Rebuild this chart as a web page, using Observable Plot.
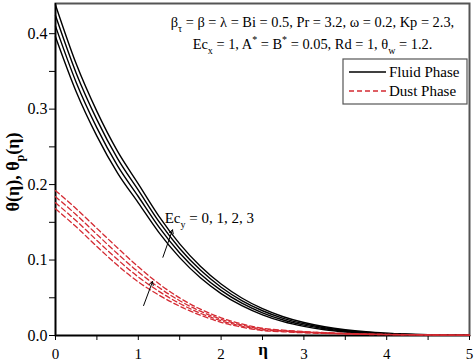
<!DOCTYPE html>
<html><head><meta charset="utf-8">
<script src="https://cdn.jsdelivr.net/npm/d3@7"></script>
<script src="https://cdn.jsdelivr.net/npm/@observablehq/plot@0.6"></script>
<style>
html,body{margin:0;padding:0;background:#fff}
svg{display:block}
</style>
</head><body><div id="chart"></div>
<script>
// ---- data ----
const eta = [0,0.25,0.5,0.75,1,1.25,1.5,1.75,2,2.25,2.5,2.75,3,3.25,3.5,3.75,4,4.5,5];
const fluidEc0 = [0.396,0.3231,0.2643,0.2152,0.1758,0.1364,0.1032,0.0765,0.0556,0.0395,0.0274,0.0183,0.0121,0.0077,0.0047,0.0026,0.0014,0.0003,0.0001];
const fluidEc1 = [0.410,0.3354,0.2752,0.2248,0.1842,0.1436,0.1093,0.0816,0.0598,0.0429,0.0301,0.0205,0.0138,0.0090,0.0057,0.0034,0.0020,0.0006,0.0002];
const fluidEc2 = [0.424,0.3477,0.2861,0.2344,0.1926,0.1508,0.1154,0.0867,0.0640,0.0463,0.0328,0.0227,0.0155,0.0103,0.0067,0.0042,0.0026,0.0009,0.0003];
const fluidEc3 = [0.438,0.360,0.297,0.244,0.201,0.158,0.1215,0.0918,0.0682,0.0497,0.0355,0.0249,0.0172,0.0116,0.0077,0.0050,0.0032,0.0012,0.0004];
const dustEc0 = [0.168,0.144,0.118,0.093,0.071,0.0535,0.0388,0.0269,0.0175,0.0111,0.0066,0.0049,0.0036,0.0027,0.0020,0.0014,0.0011,0.0006,0.0003];
const dustEc1 = [0.176,0.152,0.126,0.1006,0.0776,0.0585,0.0424,0.0295,0.0195,0.0125,0.0076,0.0057,0.0042,0.0031,0.0023,0.0017,0.0012,0.0007,0.0003];
const dustEc2 = [0.184,0.160,0.134,0.1083,0.0843,0.0635,0.0461,0.0322,0.0215,0.0139,0.0086,0.0064,0.0047,0.0035,0.0026,0.0019,0.0014,0.0008,0.0004];
const dustEc3 = [0.192,0.168,0.142,0.116,0.091,0.0685,0.0498,0.0349,0.0235,0.0153,0.0096,0.0071,0.0052,0.0039,0.0029,0.0021,0.0016,0.0009,0.0005];
const ecValues = [0,1,2,3];
const xTicks = [0,1,2,3,4,5];
const xMinor = [0.5,1.5,2.5,3.5,4.5];
const yTicks = [0,0.1,0.2,0.3,0.4];
const yMinor = [0.05,0.15,0.25,0.35];
const legendLabels = ["Fluid Phase","Dust Phase"];

// ---- tables ----
const fluidSeries = [fluidEc0,fluidEc1,fluidEc2,fluidEc3];
const dustSeries = [dustEc0,dustEc1,dustEc2,dustEc3];
const fluidRows = fluidSeries.flatMap((s,i)=>s.map((v,j)=>({eta:eta[j],v,ec:ecValues[i]})));
const dustRows = dustSeries.flatMap((s,i)=>s.map((v,j)=>({eta:eta[j],v,ec:ecValues[i]})));

const RED = "#d42a32";
const FONT = "'Liberation Serif','Times New Roman',serif";

const plot = Plot.plot({
  width: 474, height: 361,
  marginLeft: 55, marginRight: 5, marginTop: 3, marginBottom: 26,
  style: {fontFamily: FONT, fontSize: "15px", color: "#000", background: "#fff", overflow: "visible"},
  x: {domain: [0,5]},
  y: {domain: [0,0.44]},
  marks: [
    Plot.frame({stroke: "#555", strokeWidth: 2}),
    Plot.axisX({ticks: xTicks, tickSize: 5, tickPadding: 8, tickFormat: d => String(d), label: null, fontSize: 15}),
    Plot.axisX({ticks: xMinor, tickSize: 5, tickFormat: () => "", label: null}),
    Plot.axisY({ticks: yTicks, tickSize: 6, tickPadding: 2, tickFormat: d3.format(".1f"), label: null, fontSize: 16}),
    Plot.axisY({ticks: yMinor, tickSize: 6, tickFormat: () => "", label: null}),
    Plot.ruleX([0], {stroke: "#000", strokeWidth: 1.5}),
    Plot.ruleY([0], {stroke: "#000", strokeWidth: 1.5}),
    Plot.line(fluidRows, {x: "eta", y: "v", z: "ec", stroke: "#000", strokeWidth: 1.4, curve: "monotone-x"}),
    Plot.line(dustRows, {x: "eta", y: "v", z: "ec", stroke: RED, strokeWidth: 1.3, strokeDasharray: "5,3", curve: "monotone-x"}),
    Plot.arrow([{x1:1.297,y1:0.1037,x2:1.413,y2:0.140}], {x1:"x1",y1:"y1",x2:"x2",y2:"y2", stroke:"#000", strokeWidth:1, headLength:6}),
    Plot.arrow([{x1:1.064,y1:0.0397,x2:1.172,y2:0.0715}], {x1:"x1",y1:"y1",x2:"x2",y2:"y2", stroke:"#000", strokeWidth:1, headLength:6})
  ]
});
document.getElementById("chart").appendChild(plot);

const svg = d3.select(plot);
// force the serif face on the library's own tick labels
svg.selectAll("text").each(function() {
  const el = d3.select(this);
  const isY = /^0\.\d$/.test(el.text());
  el.style("font-family", FONT).style("font-variant", "normal")
    .style("font-size", isY ? "16px" : "15px");
});

const sx = plot.scale("x"), sy = plot.scale("y");
const X = v => sx.apply(v), Y = v => sy.apply(v);

function richText(g, x, y, parts, opts={}) {
  const t = g.append("text").attr("x", x).attr("y", y)
    .style("font-family", FONT).style("font-size", (opts.size || 15) + "px")
    .attr("fill", "#000").attr("text-anchor", opts.anchor || "start");
  if (opts.weight) t.style("font-weight", opts.weight);
  if (opts.transform) t.attr("transform", opts.transform);
  let shift = 0;
  const subSize = opts.subSize || 10;
  for (const p of parts) {
    let s = 0, fs = null;
    if (typeof p === "string") { s = 0; }
    else if (p.sub) { s = 5; fs = subSize; }
    else if (p.sup) { s = -6; fs = subSize; }
    const txt = typeof p === "string" ? p : (p.sub || p.sup);
    const ts = t.append("tspan").attr("dy", s - shift).text(txt);
    if (fs) ts.style("font-size", fs + "px");
    shift = s;
  }
  return t;
}

const ann = svg.append("g");
// parameter block
richText(ann, X(3.11), Y(0.408), ["β",{sub:"τ"}," = β = λ = Bi = 0.5, Pr = 3.2, ω = 0.2, Kp = 2.3,"], {anchor:"middle", size:14.4});
richText(ann, X(3.11), Y(0.379), ["Ec",{sub:"x"}," = 1, A",{sup:"*"}," = B",{sup:"*"}," = 0.05, Rd = 1, θ",{sub:"w"}," = 1.2."], {anchor:"middle", size:14.4});
// Ec_y label
richText(ann, X(1.325), Y(0.148), ["Ec",{sub:"y"}," = 0, 1, 2, 3"], {size:15});

// axis labels
richText(ann, 19, 172, ["θ(η), θ",{sub:"p"},"(η)"], {anchor:"middle", size:18, weight:"bold", subSize:12, transform:"rotate(-90,19,172)"});
richText(ann, 263, 355, ["η"], {anchor:"middle", size:17, weight:"bold"});

// legend
const lg = svg.append("g");
lg.append("rect").attr("x",343).attr("y",59).attr("width",124).attr("height",45)
  .attr("fill","#fff").attr("stroke","#555").attr("stroke-width",1.2);
lg.append("line").attr("x1",349).attr("x2",386).attr("y1",72).attr("y2",72).attr("stroke","#000").attr("stroke-width",1.4);
lg.append("line").attr("x1",349).attr("x2",386).attr("y1",91).attr("y2",91).attr("stroke",RED).attr("stroke-width",1.3).attr("stroke-dasharray","5,3");
richText(lg, 389, 77, [legendLabels[0]], {size:15});
richText(lg, 389, 96, [legendLabels[1]], {size:15});
</script></body></html>
